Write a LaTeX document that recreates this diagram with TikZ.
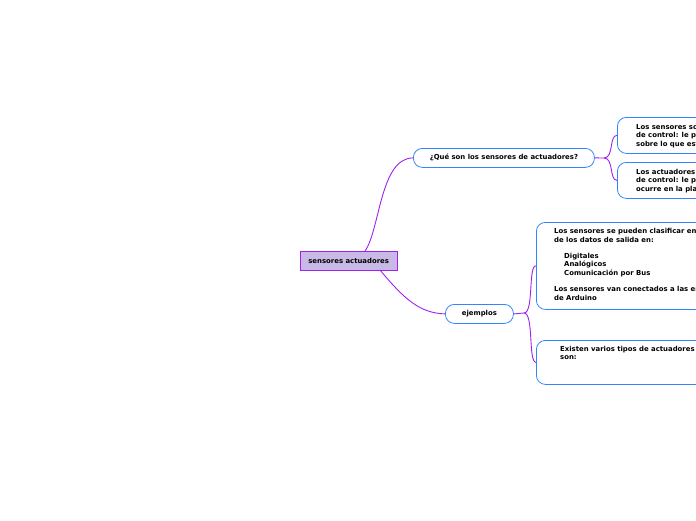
\documentclass[tikz,border=0pt]{standalone}
\usepackage{fontspec}
\setmainfont{DejaVu Sans}
\begin{document}
\begin{tikzpicture}[x=1pt,y=-1pt,
  box/.style={draw=blue!60!cyan!80!white, line width=0.8pt, rounded corners=9pt, fill=white, inner sep=0pt, anchor=north west},
  txt/.style={font=\bfseries\fontsize{6.9}{8.3}\selectfont, anchor=north west, align=left, inner sep=0pt},
  link/.style={draw={rgb,255:red,160;green,32;blue,240}, line width=0.9pt}]
\useasboundingbox (0,0) rectangle (696,520);
\clip (0,0) rectangle (696,520);
\node[draw={rgb,255:red,160;green,32;blue,240}, fill={rgb,255:red,200;green,185;blue,230}, minimum width=97pt, minimum height=19pt, inner sep=0pt, anchor=north west, font=\bfseries\fontsize{6.9}{8}\selectfont] (root) at (300,251) {sensores actuadores};
\node[box, minimum width=181pt, minimum height=19pt] (q) at (413,148) {};
\node[txt, anchor=center] at (q.center) {¿Qué son los sensores de actuadores?};
\node[box, minimum width=120pt, minimum height=36pt] (s1) at (617,117) {};
\node[txt] at (636,124) {Los sensores son dispositivos\\de control: le proporcionan\\sobre lo que está ocurriendo};
\node[box, minimum width=120pt, minimum height=36pt] (s2) at (617,162) {};
\node[txt] at (636,169) {Los actuadores son dispositivos\\de control: le permiten actuar\\ocurre en la planta};
\node[box, minimum width=68pt, minimum height=19pt] (ej) at (445,304) {};
\node[txt, anchor=center] at (ej.center) {ejemplos};
\node[box, minimum width=200pt, minimum height=87pt] (e1) at (536,222) {};
\node[txt] at (554,228) {Los sensores se pueden clasificar en función\\de los datos de salida en:\\[8.3pt]\hspace*{10pt}Digitales\\\hspace*{10pt}Analógicos\\\hspace*{10pt}Comunicación por Bus\\[8.3pt]Los sensores van conectados a las entradas\\de Arduino};
\node[box, minimum width=200pt, minimum height=44pt] (e2) at (536,340) {};
\node[txt] at (560,346) {Existen varios tipos de actuadores que\\son:};
\draw[link] (365,251) .. controls (380,230) and (380,158) .. (q.west);
\draw[link] (380,270) .. controls (405,300) and (420,313) .. (ej.west);
\draw[link] (q.east) -- (604,158) .. controls (614,158) and (609,135) .. (s1.west);
\draw[link] (604,158) .. controls (614,158) and (609,180) .. (s2.west);
\draw[link] (ej.east) -- (524,313) .. controls (534,313) and (528,265) .. (e1.west);
\draw[link] (524,313) .. controls (534,313) and (528,362) .. (e2.west);
\end{tikzpicture}
\end{document}
